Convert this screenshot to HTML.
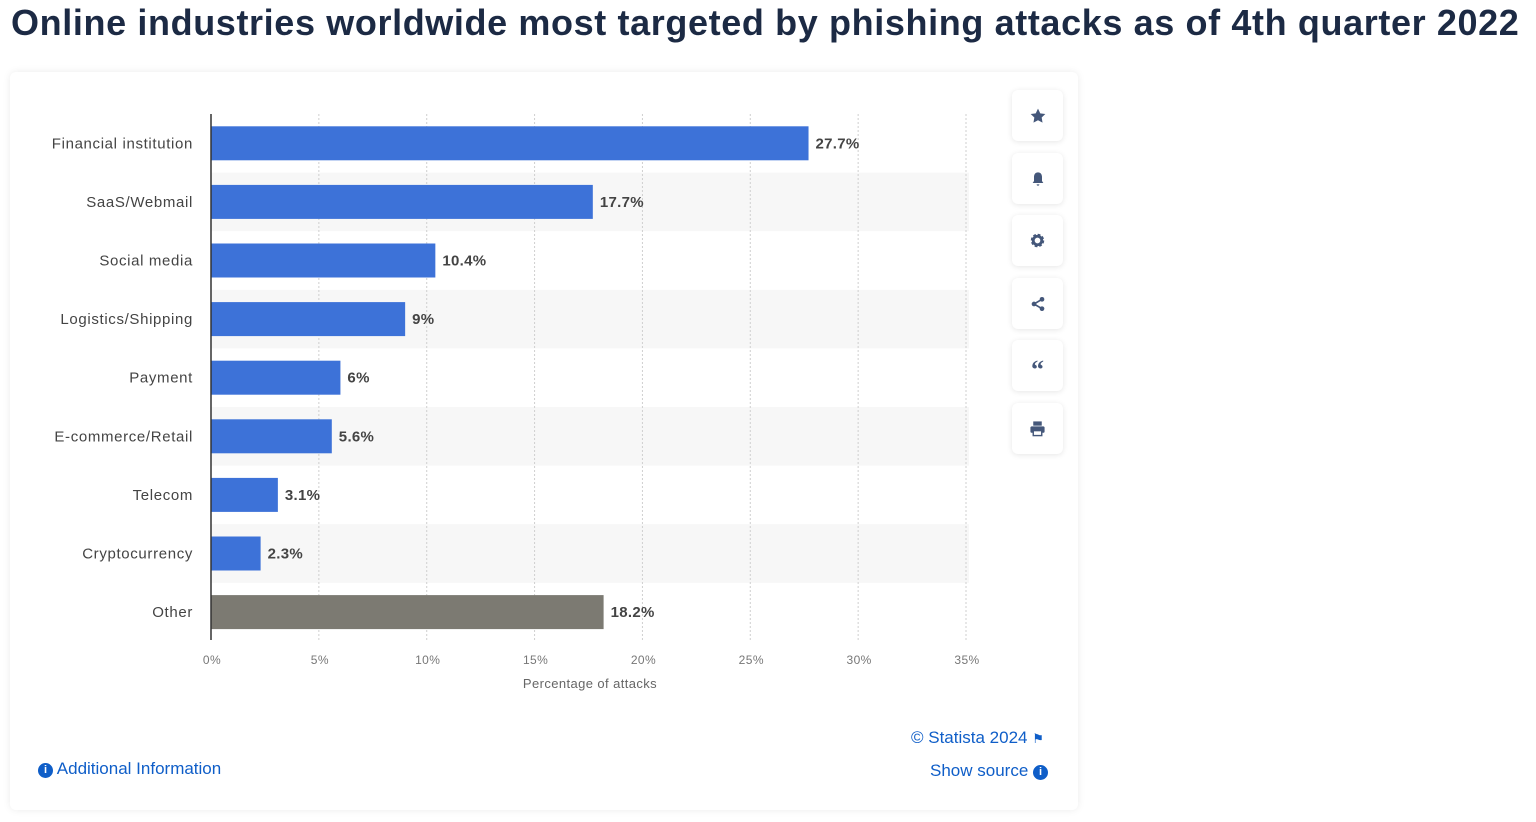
<!DOCTYPE html>
<html><head><meta charset="utf-8"><style>
body{margin:0;width:1536px;height:822px;background:#fff;font-family:"Liberation Sans",sans-serif;overflow:hidden;position:relative}
.title{position:absolute;left:11px;top:2px;font-size:36px;font-weight:bold;color:#1c2a44;white-space:nowrap;letter-spacing:0.62px}
.card{position:absolute;left:10px;top:72px;width:1068px;height:738px;background:#fff;border-radius:6px;box-shadow:0 0 8px rgba(0,0,0,0.08)}
.btn{position:absolute;left:1012px;width:51px;height:51px;background:#fff;border-radius:6px;box-shadow:0 1px 6px rgba(0,0,0,0.1);display:flex;align-items:center;justify-content:center;color:#44577a}
.link{position:absolute;color:#0f5ec8;font-size:17px}
.ic{display:inline-block;width:15px;height:15px;border-radius:50%;background:#0f5ec8;color:#fff;font-size:11px;font-weight:bold;text-align:center;line-height:15px;vertical-align:1px}
</style></head><body>
<div class="title">Online industries worldwide most targeted by phishing attacks as of 4th quarter 2022</div>
<div class="card"></div>
<svg id="chart" width="1536" height="822" style="position:absolute;left:0;top:0"></svg>
<div class="btn" style="top:90px"><svg width="16" height="16" viewBox="0 0 24 24"><path fill="#44577a" d="M12 1l3.4 7 7.6 1-5.5 5.3 1.3 7.7L12 18.3 5.2 22l1.3-7.7L1 9l7.6-1z"/></svg></div>
<div class="btn" style="top:153px"><svg width="16" height="16" viewBox="0 0 24 24"><path fill="#44577a" d="M12 2c-4 0-6 3-6 7v6l-2 3h16l-2-3V9c0-4-2-7-6-7zM10 20h4a2 2 0 01-4 0z"/></svg></div>
<div class="btn" style="top:215px"><svg width="17" height="17" viewBox="0 0 24 24"><circle cx="12" cy="12" r="7" fill="none" stroke="#44577a" stroke-width="5" stroke-dasharray="3.3 2.2"/><circle cx="12" cy="12" r="6" fill="none" stroke="#44577a" stroke-width="4"/></svg></div>
<div class="btn" style="top:278px"><svg width="16" height="16" viewBox="0 0 24 24"><circle cx="18" cy="5" r="3.5" fill="#44577a"/><circle cx="6" cy="12" r="3.5" fill="#44577a"/><circle cx="18" cy="19" r="3.5" fill="#44577a"/><path d="M18 5L6 12l12 7" stroke="#44577a" stroke-width="2.5" fill="none"/></svg></div>
<div class="btn" style="top:340px;font-size:26px;font-weight:bold;font-family:'Liberation Serif',serif;padding-top:8px;box-sizing:border-box">“</div>
<div class="btn" style="top:403px"><svg width="17" height="17" viewBox="0 0 24 24"><rect x="6" y="2" width="12" height="6" fill="#44577a"/><rect x="2" y="9" width="20" height="9" rx="2" fill="#44577a"/><rect x="6" y="15" width="12" height="7" fill="#fff" stroke="#44577a" stroke-width="2"/></svg></div>
<div class="link" style="left:38px;top:759px"><span class="ic">i</span> Additional Information</div>
<div class="link" style="left:911px;top:728px">© Statista 2024 <span style="font-size:13px">⚑</span></div>
<div class="link" style="left:930px;top:761px">Show source <span class="ic">i</span></div>
<script>
const categories=["Financial institution","SaaS/Webmail","Social media","Logistics/Shipping","Payment","E-commerce/Retail","Telecom","Cryptocurrency","Other"];
const values=[27.7,17.7,10.4,9,6,5.6,3.1,2.3,18.2];
const valueLabels=["27.7%","17.7%","10.4%","9%","6%","5.6%","3.1%","2.3%","18.2%"];
const ticks=[0,5,10,15,20,25,30,35];
const tickLabels=["0%","5%","10%","15%","20%","25%","30%","35%"];
const svg=document.getElementById('chart');
const NS="http://www.w3.org/2000/svg";
const x0=211,x1=966,top0=114,rowH=58.6;
const xs=v=>x0+(v/35)*(x1-x0);
const yc=i=>top0+rowH*i+rowH/2;
function mk(t,a,txt){const e=document.createElementNS(NS,t);for(const k in a)e.setAttribute(k,a[k]);if(txt!=null)e.textContent=txt;svg.appendChild(e);return e;}
categories.forEach((c,i)=>{if(i%2===1){const r=mk('rect',{x:x0,y:top0+rowH*i,width:969-x0,height:rowH,fill:'#f7f7f7'});

}});
ticks.forEach((t,i)=>{const l=mk('line',{x1:xs(t),x2:xs(t),y1:top0,y2:640,stroke:'#cfcfcf','stroke-dasharray':'2 2'});


const tx=mk('text',{x:xs(t)+1,y:664,'text-anchor':'middle','font-size':12,fill:'#777','letter-spacing':'0.4'},tickLabels[i]);

});
categories.forEach((c,i)=>{const y=yc(i);
const b=mk('rect',{x:x0,y:y-17,width:xs(values[i])-x0,height:34,fill:i===categories.length-1?'#7c7a72':'#3d72d8'});


const l=mk('text',{x:193,y:y+5,'text-anchor':'end','font-size':15,fill:'#444','letter-spacing':'0.65'},c);


const v=mk('text',{x:xs(values[i])+7,y:y+5,'font-size':15,'font-weight':'bold',fill:'#444','letter-spacing':'0.3'},valueLabels[i]);

});
const ax=mk('line',{x1:x0,x2:x0,y1:top0,y2:640,stroke:'#333','stroke-width':1.5});


const at=mk('text',{x:590,y:688,'text-anchor':'middle','font-size':13,fill:'#666','letter-spacing':'0.4'},'Percentage of attacks');


</script>
</body></html>
